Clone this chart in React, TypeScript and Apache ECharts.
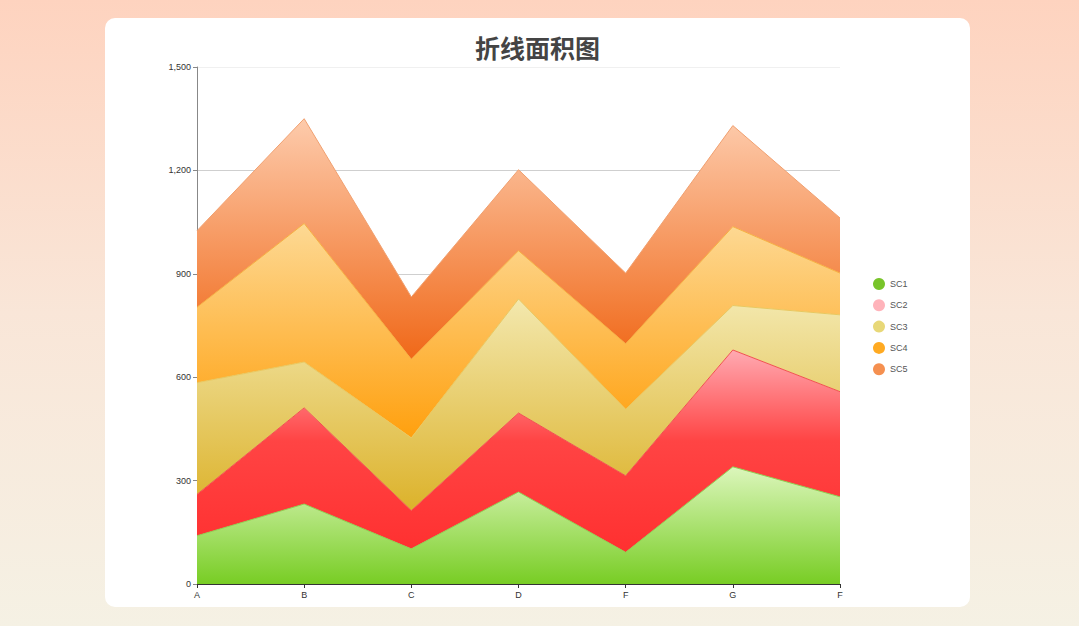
import React, { useEffect, useRef } from "react";
import * as echarts from "echarts";

const categories = ["A", "B", "C", "D", "F", "G", "F"];
const seriesNames = ["SC1", "SC2", "SC3", "SC4", "SC5"];
const sc1 = [140, 232, 102, 267, 92, 340, 253];
const sc2 = [120, 279, 111, 229, 222, 339, 305];
const sc3 = [324, 133, 211, 331, 193, 129, 223];
const sc4 = [219, 402, 228, 140, 190, 229, 121];
const sc5 = [222, 304, 181, 235, 205, 293, 160];
const yTicks = { min: 0, max: 1500, interval: 300 };

const palette = [
  { stops: [[0, "#dcf6bc"], [1, "#78cd24"]], line: "#8fcf50", legend: "#78c42a" },
  { stops: [[0, "#ffaab2"], [0.45, "#ff4444"], [1, "#ff3030"]], line: "#f25050", legend: "#ffb3ba" },
  { stops: [[0, "#f3e8ae"], [1, "#dcb22a"]], line: "#e8c860", legend: "#e8d878" },
  { stops: [[0, "#fdd994"], [1, "#ffa00e"]], line: "#f6b040", legend: "#ffaa22" },
  { stops: [[0, "#fdcbac"], [1, "#f06818"]], line: "#f0a070", legend: "#f59050" },
];

export default function App() {
  const ref = useRef<HTMLDivElement>(null);
  useEffect(() => {
    document.body.style.margin = "0";
    const chart = echarts.init(ref.current!, null, { renderer: "svg" });
    const data = [sc1, sc2, sc3, sc4, sc5];
    chart.setOption({
      animation: false,
      title: {
        text: "折线面积图",
        left: "center",
        top: 11,
        textStyle: {
          fontSize: 25,
          fontWeight: "bold",
          color: "#444",
          fontFamily: "Noto Sans CJK SC",
        },
      },
      legend: {
        orient: "vertical",
        left: 763,
        top: 255,
        itemGap: 9.3,
        itemWidth: 12,
        itemHeight: 12,
        icon: "circle",
        textStyle: { fontSize: 9, color: "#555", fontFamily: "Liberation Sans" },
        data: seriesNames.map((n, i) => ({
          name: n,
          itemStyle: { color: palette[i].legend },
        })),
      },
      grid: { left: 92, right: 130, top: 49, bottom: 23, containLabel: false },
      xAxis: {
        type: "category",
        boundaryGap: false,
        data: categories,
        axisLine: { lineStyle: { color: "#333", width: 1 } },
        axisTick: { alignWithLabel: true, length: 4, lineStyle: { color: "#333" } },
        axisLabel: { fontSize: 9, color: "#333", margin: 6, fontFamily: "Liberation Sans" },
      },
      yAxis: {
        type: "value",
        min: yTicks.min,
        max: yTicks.max,
        interval: yTicks.interval,
        axisLine: { show: true, lineStyle: { color: "#888" } },
        axisTick: { show: true, length: 4, lineStyle: { color: "#888" } },
        axisLabel: { fontSize: 9, color: "#333", margin: 6, fontFamily: "Liberation Sans" },
        splitLine: {
          lineStyle: { color: ["#cfcfcf", "#cfcfcf", "#cfcfcf", "#cfcfcf", "#cfcfcf", "#f0f0f0"] },
        },
      },
      series: data.map((d, i) => ({
        name: seriesNames[i],
        type: "line",
        stack: "total",
        data: d,
        symbol: "none",
        lineStyle: { width: 1, color: palette[i].line },
        itemStyle: { color: palette[i].legend },
        areaStyle: {
          opacity: 1,
          color: new echarts.graphic.LinearGradient(
            0,
            0,
            0,
            1,
            palette[i].stops.map((s) => ({ offset: s[0] as number, color: s[1] as string }))
          ),
        },
      })),
    });
    return () => chart.dispose();
  }, []);
  return (
    <div
      style={{
        position: "fixed",
        left: 0,
        top: 0,
        width: 1079,
        height: 626,
        background: "linear-gradient(180deg, #fed3bf 0%, #f9e6d8 50%, #f5f1e4 100%)",
      }}
    >
      <div
        style={{
          position: "absolute",
          left: 105,
          top: 18,
          width: 865,
          height: 589,
          background: "#fff",
          borderRadius: 10,
          overflow: "hidden",
        }}
      >
        <div ref={ref} style={{ width: 865, height: 589 }} />
      </div>
    </div>
  );
}
